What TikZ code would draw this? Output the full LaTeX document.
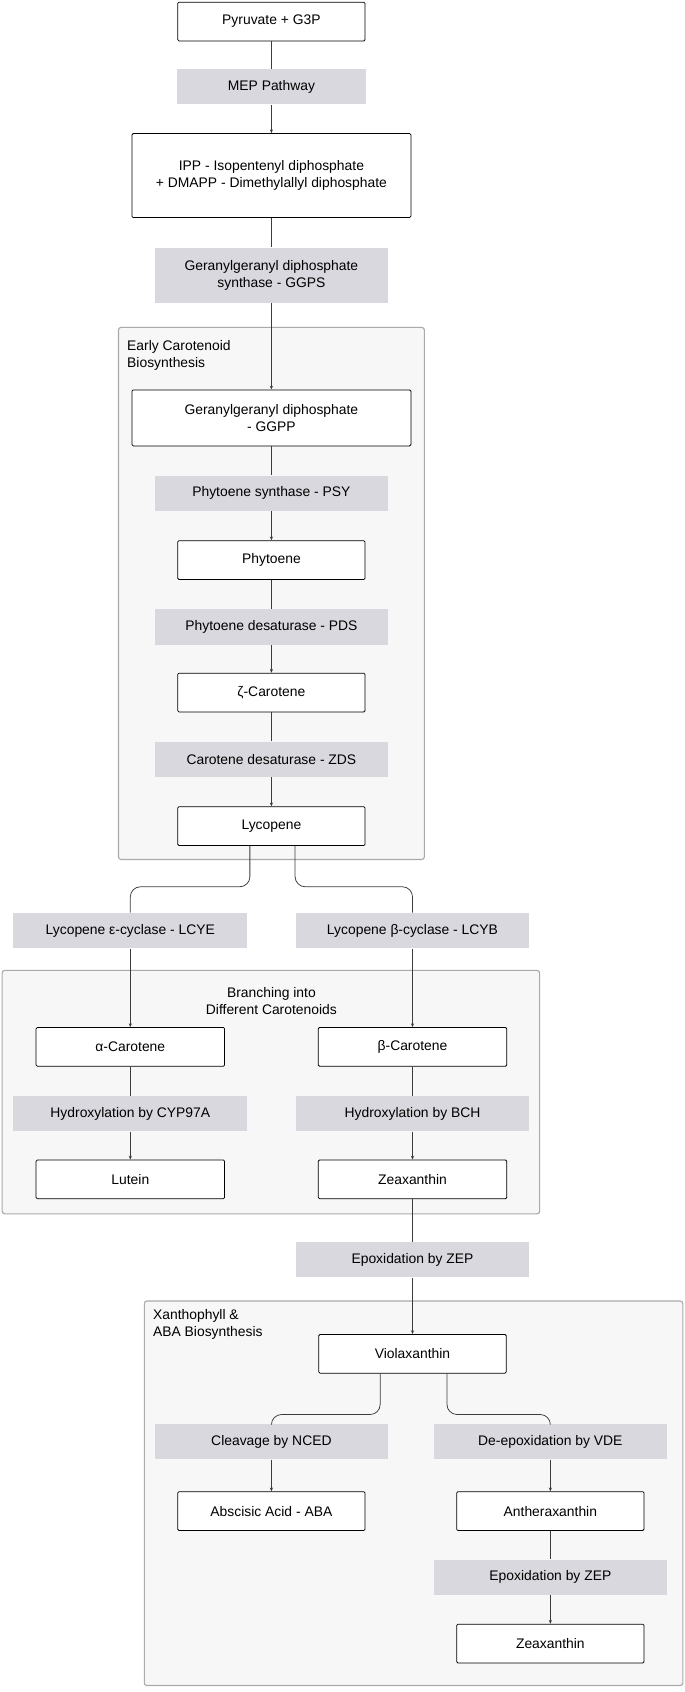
\documentclass[tikz,border=0pt]{standalone}
\usepackage{fontspec}
\setmainfont{Liberation Sans}
\usetikzlibrary{positioning,calc,arrows.meta}
\definecolor{enzymegray}{RGB}{216,216,222}
\definecolor{panelfill}{RGB}{247,247,247}
\definecolor{panelline}{RGB}{170,170,170}
\definecolor{linegray}{RGB}{60,60,60}

\begin{document}
\begin{tikzpicture}[x=0.03cm,y=-0.03cm,
                font=\fontsize{11}{13.5}\selectfont,
                mol/.style={draw,fill=white,rounded corners=1pt,line width=0.6pt,minimum height=36*0.03cm,align=center,inner sep=1pt},
                enz/.style={fill=enzymegray,minimum width=217*0.03cm,minimum height=33*0.03cm,align=center,inner sep=1pt},
                panel/.style={draw=panelline,fill=panelfill,rounded corners=2pt,line width=0.9pt},
                link/.style={draw=linegray,line width=0.6pt},
                flow/.style={link,-{Stealth[length=3pt,width=2.5pt]}}]
\useasboundingbox (0,0) rectangle (636,1571);
%Panels
    \draw[panel] (110,304) rectangle (394,798);
    \draw[panel] (2,901) rectangle (501,1127);
    \draw[panel] (134,1208) rectangle (634,1565);
    \node[anchor=north west,align=left] (earlylbl) at (114,312) {Early Carotenoid\\Biosynthesis};
    \node[align=center] (branchlbl) at (252,929) {Branching into\\Different Carotenoids};
    \node[anchor=north west,align=left] (xantholbl) at (138,1212) {Xanthophyll \&\\ABA Biosynthesis};
%Nodes
    \node[mol,minimum width=174*0.03cm] (pyr) at (252,20) {Pyruvate + G3P};
    \node[enz,minimum width=176*0.03cm] (mep) at (252,80.5) {MEP Pathway};
    \node[mol,minimum width=259*0.03cm,minimum height=78*0.03cm] (ipp) at (252,163) {IPP - Isopentenyl diphosphate\\+ DMAPP - Dimethylallyl diphosphate};
    \node[enz,minimum height=51*0.03cm] (ggps) at (252,255.5) {Geranylgeranyl diphosphate\\synthase - GGPS};
    \node[mol,minimum width=259*0.03cm,minimum height=52*0.03cm] (ggpp) at (252,388) {Geranylgeranyl diphosphate\\- GGPP};
    \node[enz] (psy) at (252,458) {Phytoene synthase - PSY};
    \node[mol,minimum width=174*0.03cm] (phy) at (252,520) {Phytoene};
    \node[enz] (pds) at (252,582) {Phytoene desaturase - PDS};
    \node[mol,minimum width=174*0.03cm] (zeta) at (252,643) {ζ-Carotene};
    \node[enz] (zds) at (252,705) {Carotene desaturase - ZDS};
    \node[mol,minimum width=174*0.03cm] (lyc) at (252,767) {Lycopene};
    \node[enz] (lcye) at (121,864) {Lycopene ε-cyclase - LCYE};
    \node[enz] (lcyb) at (383,864) {Lycopene β-cyclase - LCYB};
    \node[mol,minimum width=175*0.03cm] (acar) at (121,972) {α-Carotene};
    \node[mol,minimum width=175*0.03cm] (bcar) at (383,972) {β-Carotene};
    \node[enz] (cyp) at (121,1034) {Hydroxylation by CYP97A};
    \node[enz] (bch) at (383,1034) {Hydroxylation by BCH};
    \node[mol,minimum width=175*0.03cm] (lut) at (121,1095) {Lutein};
    \node[mol,minimum width=175*0.03cm] (zea) at (383,1095) {Zeaxanthin};
    \node[enz] (zep) at (383,1169.5) {Epoxidation by ZEP};
    \node[mol,minimum width=174*0.03cm] (vio) at (383,1257) {Violaxanthin};
    \node[enz] (nced) at (252,1338.5) {Cleavage by NCED};
    \node[enz] (vde) at (511,1338.5) {De-epoxidation by VDE};
    \node[mol,minimum width=174*0.03cm] (aba) at (252,1403) {Abscisic Acid - ABA};
    \node[mol,minimum width=174*0.03cm] (anth) at (511,1403) {Antheraxanthin};
    \node[enz] (zep2) at (511,1464.5) {Epoxidation by ZEP};
    \node[mol,minimum width=174*0.03cm] (zea2) at (511,1526) {Zeaxanthin};
%Connectors
    \draw[link] (pyr) -- (mep);
    \draw[flow] (mep) -- (ipp);
    \draw[link] (ipp) -- (ggps);
    \draw[flow] (ggps) -- (ggpp);
    \draw[link] (ggpp) -- (psy);
    \draw[flow] (psy) -- (phy);
    \draw[link] (phy) -- (pds);
    \draw[flow] (pds) -- (zeta);
    \draw[link] (zeta) -- (zds);
    \draw[flow] (zds) -- (lyc);
    \draw[link,rounded corners=8pt] ($(lyc.south)+(-20,0)$) -- ++(0,38) -| (lcye.north);
    \draw[link,rounded corners=8pt] ($(lyc.south)+(22,0)$) -- ++(0,38) -| (lcyb.north);
    \draw[flow] (lcye) -- (acar);
    \draw[flow] (lcyb) -- (bcar);
    \draw[link] (acar) -- (cyp);
    \draw[link] (bcar) -- (bch);
    \draw[flow] (cyp) -- (lut);
    \draw[flow] (bch) -- (zea);
    \draw[link] (zea) -- (zep);
    \draw[flow] (zep) -- (vio);
    \draw[link,rounded corners=8pt] ($(vio.south)+(-30,0)$) -- ++(0,38) -| (nced.north);
    \draw[link,rounded corners=8pt] ($(vio.south)+(32,0)$) -- ++(0,38) -| (vde.north);
    \draw[flow] (nced) -- (aba);
    \draw[flow] (vde) -- (anth);
    \draw[link] (anth) -- (zep2);
    \draw[flow] (zep2) -- (zea2);
\end{tikzpicture}
\end{document}
